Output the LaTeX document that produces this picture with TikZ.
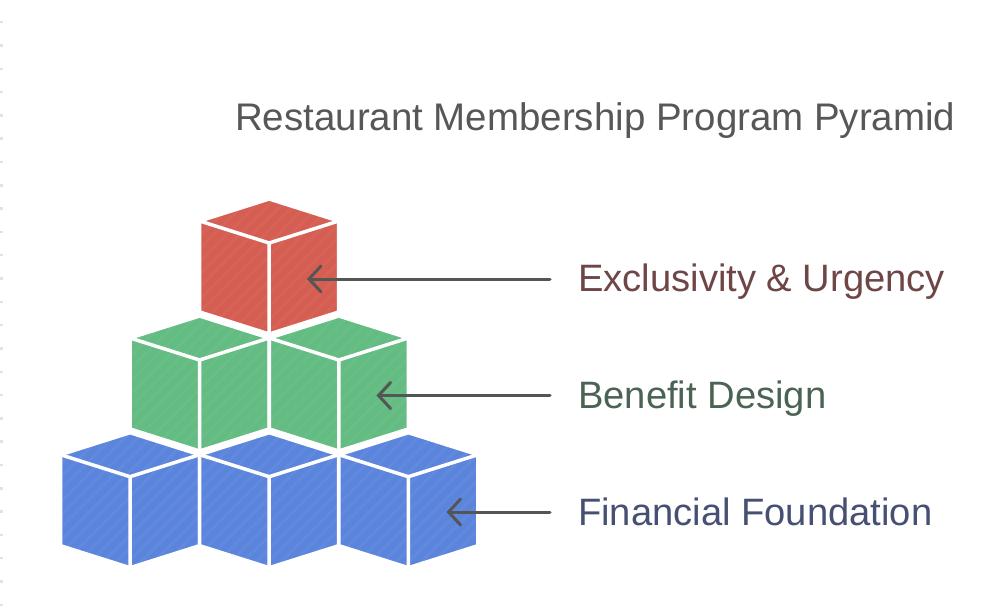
\documentclass[tikz,border=0pt]{standalone}
\usepackage{fontspec}
\setmainfont{Liberation Sans}
\usetikzlibrary{arrows.meta,patterns.meta}
\definecolor{cred}{HTML}{D55D52}
\definecolor{cgreen}{HTML}{63BC82}
\definecolor{cblue}{HTML}{5B85DC}
\definecolor{tred}{HTML}{6E4646}
\definecolor{tgreen}{HTML}{4A6352}
\definecolor{tblue}{HTML}{465072}
\definecolor{ttitle}{HTML}{575757}
\definecolor{arrowgray}{HTML}{555555}
\definecolor{dotgray}{HTML}{E2E2E2}
\newcommand{\mycube}[3]{% cx, ty, colour
  \fill[#3] (#1,#2) -- (#1+69.5,#2+22) -- (#1+69.5,#2+113) -- (#1,#2+135) -- (#1-69.5,#2+113) -- (#1-69.5,#2+22) -- cycle;
  \fill[pattern={Lines[angle=45,distance=9bp,line width=3bp]},pattern color=white,opacity=0.04] (#1,#2) -- (#1+69.5,#2+22) -- (#1+69.5,#2+113) -- (#1,#2+135) -- (#1-69.5,#2+113) -- (#1-69.5,#2+22) -- cycle;
  \draw[cubeedge] (#1,#2) -- (#1+69.5,#2+22) -- (#1+69.5,#2+113) -- (#1,#2+135) -- (#1-69.5,#2+113) -- (#1-69.5,#2+22) -- cycle;
  \draw[cubeedge] (#1-69.5,#2+22) -- (#1,#2+44) -- (#1+69.5,#2+22) (#1,#2+44) -- (#1,#2+135);
}
\begin{document}
\begin{tikzpicture}[x=1bp,y=-1bp,
  cubeedge/.style={white,line width=3.5bp,line join=round},
  label/.style={anchor=base west,inner sep=0pt,font=\fontsize{38.3}{42}\selectfont},
  pointer/.style={arrowgray,line width=3bp,line cap=round,-{Straight Barb[length=12bp,width=26bp,line cap=round]}}]
\useasboundingbox (0,0) rectangle (1008,614);
\fill[white] (0,0) rectangle (1008,614);
\foreach \i in {0,...,25} {\fill[dotgray] (0,21+23.3*\i) rectangle (2.5,23.5+23.3*\i);}
% cubes: bottom row
\mycube{130}{432.7}{cblue}
\mycube{269.2}{432.7}{cblue}
\mycube{408.4}{432.7}{cblue}
% middle row
\mycube{199.6}{316}{cgreen}
\mycube{338.8}{316}{cgreen}
% top
\mycube{269.2}{199}{cred}
% title
\node[label,font=\fontsize{38.6}{44}\selectfont,text=ttitle] (title) at (235,131) {Restaurant Membership Program Pyramid};
% labels
\node[label,text=tred] (l1) at (578,291.7) {Exclusivity \& Urgency};
\node[label,text=tgreen] (l2) at (578,408.4) {Benefit Design};
\node[label,text=tblue] (l3) at (578,525) {Financial Foundation};
\coordinate (s1) at (550,279);
\coordinate (s2) at (550,395.5);
\coordinate (s3) at (550,512);
\coordinate (t1) at (307,279);
\coordinate (t2) at (376.5,395.5);
\coordinate (t3) at (446.5,512);
\draw[pointer] (s1) -- (t1);
\draw[pointer] (s2) -- (t2);
\draw[pointer] (s3) -- (t3);
\end{tikzpicture}
\end{document}
